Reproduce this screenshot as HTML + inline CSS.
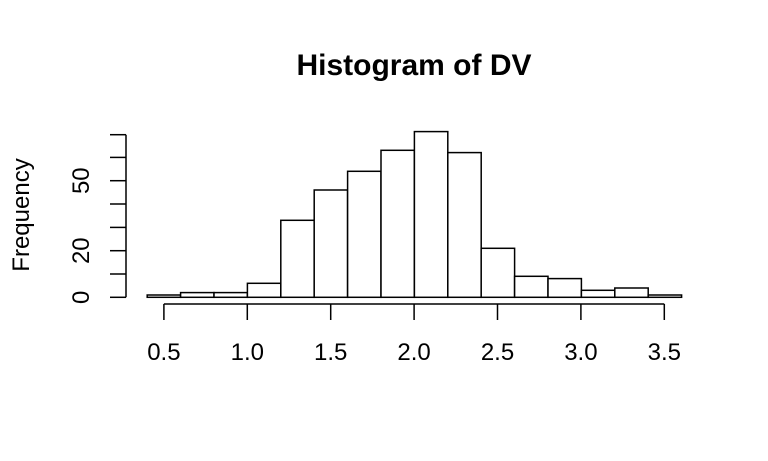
<!DOCTYPE html>
<html><head><style>body{margin:0;background:#fff}svg{display:block}</style></head><body>
<svg width="768" height="461" xmlns="http://www.w3.org/2000/svg" font-family="Liberation Sans, sans-serif">
<rect width="768" height="461" fill="#fff"/>
<text x="414" y="75" font-size="30" font-weight="bold" text-anchor="middle">Histogram of DV</text>
<g fill="#fff" stroke="#000" stroke-width="1.5">
<rect x="147.2" y="295.0" width="33.4" height="2.3"/>
<rect x="180.6" y="292.6" width="33.4" height="4.7"/>
<rect x="214.0" y="292.6" width="33.4" height="4.7"/>
<rect x="247.4" y="283.3" width="33.4" height="14.0"/>
<rect x="280.8" y="220.3" width="33.4" height="77.0"/>
<rect x="314.2" y="190.0" width="33.4" height="107.3"/>
<rect x="347.6" y="171.3" width="33.4" height="126.0"/>
<rect x="381.0" y="150.3" width="33.4" height="147.0"/>
<rect x="414.4" y="131.6" width="33.4" height="165.7"/>
<rect x="447.8" y="152.6" width="33.4" height="144.7"/>
<rect x="481.2" y="248.3" width="33.4" height="49.0"/>
<rect x="514.6" y="276.3" width="33.4" height="21.0"/>
<rect x="548.0" y="278.6" width="33.4" height="18.7"/>
<rect x="581.4" y="290.3" width="33.4" height="7.0"/>
<rect x="614.8" y="288.0" width="33.4" height="9.3"/>
<rect x="648.2" y="295.0" width="33.4" height="2.3"/>
</g>
<g stroke="#000" stroke-width="1.5" fill="none">
<line x1="126" y1="134.7" x2="126" y2="297.3"/>
<line x1="110" y1="297.3" x2="126" y2="297.3"/>
<line x1="110" y1="274" x2="126" y2="274"/>
<line x1="110" y1="250.7" x2="126" y2="250.7"/>
<line x1="110" y1="227.4" x2="126" y2="227.4"/>
<line x1="110" y1="204" x2="126" y2="204"/>
<line x1="110" y1="180.7" x2="126" y2="180.7"/>
<line x1="110" y1="157.4" x2="126" y2="157.4"/>
<line x1="110" y1="134.7" x2="126" y2="134.7"/>
<line x1="163.9" y1="304" x2="664.3" y2="304"/>
<line x1="163.9" y1="304" x2="163.9" y2="320"/>
<line x1="247.3" y1="304" x2="247.3" y2="320"/>
<line x1="330.7" y1="304" x2="330.7" y2="320"/>
<line x1="414.1" y1="304" x2="414.1" y2="320"/>
<line x1="497.5" y1="304" x2="497.5" y2="320"/>
<line x1="580.9" y1="304" x2="580.9" y2="320"/>
<line x1="664.3" y1="304" x2="664.3" y2="320"/>
</g>
<g font-size="24" text-anchor="middle">
<text x="163.9" y="360">0.5</text>
<text x="247.3" y="360">1.0</text>
<text x="330.7" y="360">1.5</text>
<text x="414.1" y="360">2.0</text>
<text x="497.5" y="360">2.5</text>
<text x="580.9" y="360">3.0</text>
<text x="664.3" y="360">3.5</text>
<text transform="translate(89,297.3) rotate(-90)">0</text>
<text transform="translate(89,250.7) rotate(-90)">20</text>
<text transform="translate(89,180.7) rotate(-90)">50</text>
<text transform="translate(29,215) rotate(-90)">Frequency</text>
</g>
</svg>
</body></html>
